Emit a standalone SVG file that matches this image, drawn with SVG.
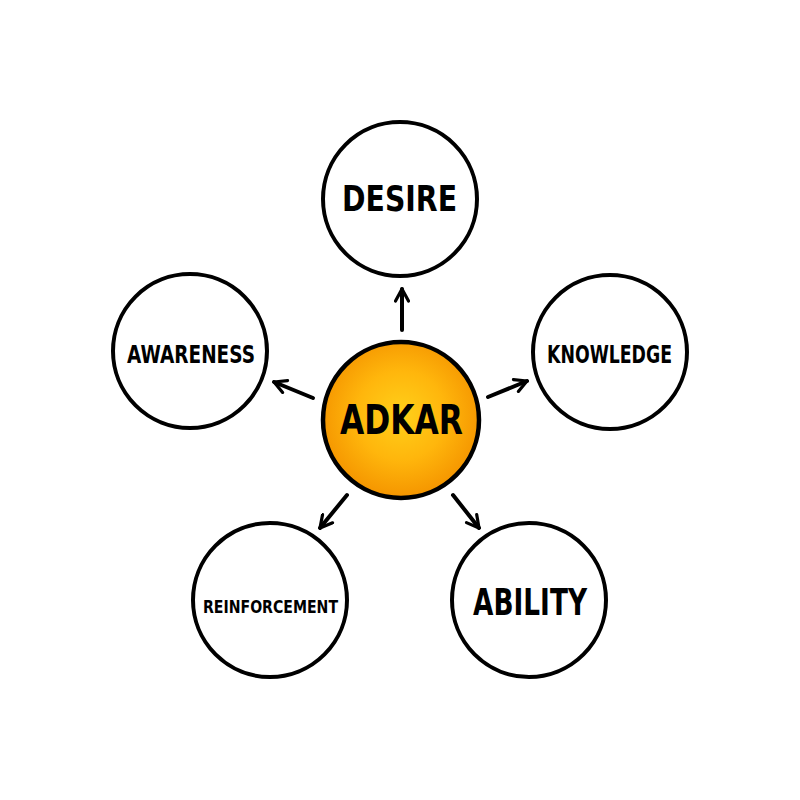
<svg xmlns="http://www.w3.org/2000/svg" width="800" height="800" viewBox="0 0 800 800">
<defs>
<radialGradient id="orange" cx="50%" cy="47%" r="52%">
<stop offset="0%" stop-color="#FFD01A"/>
<stop offset="55%" stop-color="#FFB60C"/>
<stop offset="100%" stop-color="#F59600"/>
</radialGradient>
<marker id="arrow" viewBox="0 0 16 16" refX="14" refY="8" markerWidth="16" markerHeight="16" markerUnits="userSpaceOnUse" orient="auto">
<path d="M2,1.5 L14,8 L2,14.5" fill="none" stroke="#000" stroke-width="3.2" stroke-linecap="round" stroke-linejoin="round"/>
</marker>
<style>
.node{fill:#fff;stroke:#000;stroke-width:4}
.center{fill:url(#orange);stroke:#000;stroke-width:4.5}
.lbl{font-family:"DejaVu Sans","Liberation Sans",sans-serif;font-weight:bold;fill:#000;text-anchor:start}
.conn{stroke:#000;stroke-width:4;stroke-linecap:round;fill:none;marker-end:url(#arrow)}
</style>
</defs>
<rect width="800" height="800" fill="#fff"/>
<g id="connectors">
<line class="conn" x1="402" y1="330" x2="402" y2="289"/>
<line class="conn" x1="313" y1="398" x2="274" y2="382"/>
<line class="conn" x1="488" y1="397" x2="527" y2="381"/>
<line class="conn" x1="347" y1="495" x2="320" y2="528"/>
<line class="conn" x1="453" y1="495" x2="479" y2="528"/>
</g>
<g id="adkar">
<circle class="center" cx="401" cy="420" r="78"/>
<text class="lbl" x="340" y="434" font-size="41" textLength="123" lengthAdjust="spacingAndGlyphs">ADKAR</text>
</g>
<g id="desire">
<circle class="node" cx="400" cy="199" r="77"/>
<text class="lbl" x="342" y="211" font-size="36" textLength="115" lengthAdjust="spacingAndGlyphs">DESIRE</text>
</g>
<g id="knowledge">
<circle class="node" cx="610" cy="352" r="77"/>
<text class="lbl" x="547" y="363" font-size="24" textLength="125" lengthAdjust="spacingAndGlyphs">KNOWLEDGE</text>
</g>
<g id="awareness">
<circle class="node" cx="190" cy="351" r="77"/>
<text class="lbl" x="127" y="363" font-size="24" textLength="128" lengthAdjust="spacingAndGlyphs">AWARENESS</text>
</g>
<g id="reinforcement">
<circle class="node" cx="270" cy="600" r="77"/>
<text class="lbl" x="203" y="613" font-size="18" textLength="135" lengthAdjust="spacingAndGlyphs">REINFORCEMENT</text>
</g>
<g id="ability">
<circle class="node" cx="529" cy="600" r="77"/>
<text class="lbl" x="473" y="615" font-size="38" textLength="114" lengthAdjust="spacingAndGlyphs">ABILITY</text>
</g>
</svg>
